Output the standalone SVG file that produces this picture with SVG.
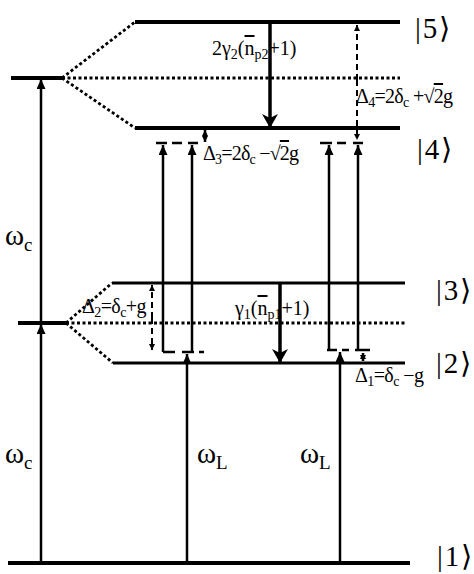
<svg xmlns="http://www.w3.org/2000/svg" width="474" height="574" viewBox="0 0 474 574">
<defs>
<style>
.lvl{stroke:#000;stroke-width:4;fill:none}
.lvl3{stroke:#000;stroke-width:3;fill:none}
.dot{stroke:#000;stroke-width:2.8;stroke-dasharray:3 2.5;fill:none}
.arr{stroke:#000;stroke-width:2.5;fill:none}
.dec{stroke:#000;stroke-width:3.5;fill:none}
.vdash{stroke:#000;stroke-width:2;stroke-dasharray:6 4;fill:none}
.vl{stroke:#000;stroke-width:2.5;fill:none}
text{font-family:"Liberation Serif","Times New Roman",serif;fill:#000}
.lab{font-size:20px}
.ket{font-size:29px;letter-spacing:2px}
.om{font-size:29px}
</style>
<marker id="ah" markerUnits="userSpaceOnUse" markerWidth="12" markerHeight="10" refX="10" refY="4.5" orient="auto"><path d="M0,0 L10,4.5 L0,9 z"/></marker>
<marker id="ahs" markerUnits="userSpaceOnUse" markerWidth="8" markerHeight="8" refX="6" refY="3" orient="auto"><path d="M0,0 L6,3 L0,6 z"/></marker>
<marker id="dh" markerUnits="userSpaceOnUse" markerWidth="16" markerHeight="18" refX="14" refY="8" orient="auto"><path d="M0,0 L14,8 L0,16 L4,8 z"/></marker>
</defs>
<rect width="474" height="574" fill="#fff"/>

<g id="level1"><line class="lvl" x1="8" y1="563" x2="410" y2="563"/><text class="ket" x="437" y="566">|1⟩</text></g>
<g id="level-wc"><line class="lvl" x1="18" y1="323" x2="66" y2="323"/><line class="dot" x1="66" y1="323" x2="405" y2="323"/><path class="dot" d="M66,323 L112,283 M66,323 L113,363"/></g>
<g id="level2"><line class="lvl3" x1="113" y1="363" x2="405" y2="363"/><text class="ket" x="436" y="373">|2⟩</text></g>
<g id="level3"><line class="lvl3" x1="112" y1="283" x2="405" y2="283"/><text class="ket" x="436" y="300">|3⟩</text></g>
<g id="level-2wc"><line class="lvl" x1="11" y1="78" x2="62" y2="78"/><line class="dot" x1="62" y1="78" x2="400" y2="78"/><path class="dot" d="M62,78 L135,22 M62,78 L135,128"/></g>
<g id="level4"><line class="lvl" x1="135" y1="128" x2="400" y2="128"/><text class="ket" x="417" y="159">|4⟩</text></g>
<g id="level5"><line class="lvl" x1="135" y1="22" x2="400" y2="22"/><text class="ket" x="415" y="38">|5⟩</text></g>

<g id="virtual-levels" stroke="#000" stroke-width="2.5" fill="none">
<path d="M156,143 H167 M172,143 H182 M188,143 H198"/>
<path d="M163,352 H175 M182,352 H194 M199,352 H204"/>
<path d="M320,143 H332 M337,143 H346 M353,143 H363"/>
<path d="M327,350 H337 M342,350 H349 M355,350 H370"/>
</g>

<g id="connectors">
<line class="arr" x1="41" y1="563" x2="41" y2="324" marker-end="url(#ah)"/>
<line class="arr" x1="41" y1="323" x2="41" y2="79" marker-end="url(#ah)"/>
<line class="arr" x1="187" y1="563" x2="187" y2="354" marker-end="url(#ah)"/>
<line class="arr" x1="340" y1="563" x2="340" y2="352" marker-end="url(#ah)"/>
<line class="vl" x1="163" y1="352" x2="163" y2="145" marker-end="url(#ah)"/>
<line class="vl" x1="192" y1="352" x2="192" y2="145" marker-end="url(#ah)"/>
<line class="vl" x1="329" y1="350" x2="329" y2="145" marker-end="url(#ah)"/>
<line class="vl" x1="358" y1="350" x2="358" y2="145" marker-end="url(#ah)"/>
<line class="dec" x1="270" y1="22" x2="270" y2="128" marker-end="url(#dh)"/>
<line class="dec" x1="280" y1="283" x2="280" y2="363" marker-end="url(#dh)"/>
<line class="vdash" x1="357" y1="80" x2="357" y2="25" marker-end="url(#ahs)"/>
<line class="vdash" x1="357" y1="80" x2="357" y2="140" marker-end="url(#ahs)"/>
<line class="vdash" x1="152" y1="318" x2="152" y2="285" marker-end="url(#ahs)"/>
<line class="vdash" x1="152" y1="318" x2="152" y2="350" marker-end="url(#ahs)"/>
<line class="arr" x1="205" y1="136" x2="205" y2="130" stroke-width="1.5" marker-end="url(#ahs)"/>
<line class="arr" x1="205" y1="136" x2="205" y2="142" stroke-width="1.5" marker-end="url(#ahs)"/>
<line class="arr" x1="363" y1="357" x2="363" y2="353" stroke-width="1.5" marker-end="url(#ahs)"/>
<line class="arr" x1="363" y1="357" x2="363" y2="361" stroke-width="1.5" marker-end="url(#ahs)"/>
</g>

<g id="labels">
<text class="om" x="5" y="245">ω<tspan font-size="19" dy="6">c</tspan></text>
<text class="om" x="5" y="463">ω<tspan font-size="19" dy="6">c</tspan></text>
<text class="om" x="197" y="463">ω<tspan font-size="19" dy="6">L</tspan></text>
<text class="om" x="300" y="463">ω<tspan font-size="19" dy="6">L</tspan></text>
<text class="lab" x="212" y="55">2γ<tspan font-size="14" dy="4">2</tspan><tspan dy="-4">(</tspan><tspan text-decoration="overline">n</tspan><tspan font-size="14" dy="4">p2</tspan><tspan dy="-4">+1)</tspan></text>
<text class="lab" x="235" y="315">γ<tspan font-size="14" dy="4">1</tspan><tspan dy="-4">(</tspan><tspan text-decoration="overline">n</tspan><tspan font-size="14" dy="4">p1</tspan><tspan dy="-4">+1)</tspan></text>
<text class="lab" x="356" y="103" letter-spacing="-0.7">Δ<tspan font-size="14" dy="4">4</tspan><tspan dy="-4">=2δ</tspan><tspan font-size="14" dy="4">c</tspan><tspan dy="-4"> +√</tspan><tspan text-decoration="overline">2</tspan>g</text>
<text class="lab" x="203" y="160" letter-spacing="-0.8">Δ<tspan font-size="14" dy="4">3</tspan><tspan dy="-4">=2δ</tspan><tspan font-size="14" dy="4">c</tspan><tspan dy="-4"> −√</tspan><tspan text-decoration="overline">2</tspan>g</text>
<text class="lab" x="82" y="313" letter-spacing="-0.6">Δ<tspan font-size="14" dy="4">2</tspan><tspan dy="-4">=δ</tspan><tspan font-size="14" dy="4">c</tspan><tspan dy="-4">+g</tspan></text>
<text class="lab" x="355" y="382" letter-spacing="-0.6">Δ<tspan font-size="14" dy="4">1</tspan><tspan dy="-4">=δ</tspan><tspan font-size="14" dy="4">c</tspan><tspan dy="-4"> −g</tspan></text>
</g>
</svg>
